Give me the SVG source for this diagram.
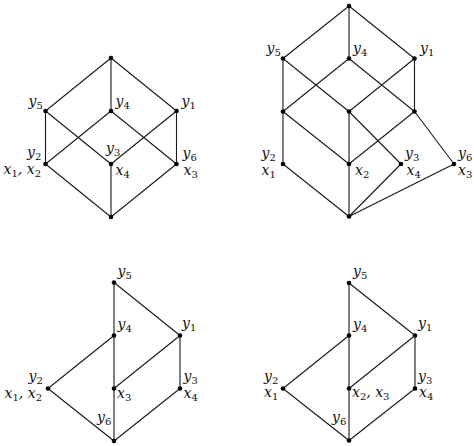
<svg xmlns="http://www.w3.org/2000/svg" width="474" height="446" viewBox="0 0 474 446">
<style>
.e{stroke:#1a1a1a;stroke-width:1.1;fill:none;stroke-linecap:round}
.n{fill:#000}
.t{font-family:"DejaVu Serif","Liberation Serif",serif;font-style:italic;font-size:14px;fill:#111}
.s{font-style:normal;font-size:10px}
</style>
<rect width="474" height="446" fill="#fff"/>
<defs><circle id="d" r="2.3" class="n"/></defs>
<g id="connectors">
<path class="e" d="M111,58 L45.5,111 M111,58 L111,111 M111,58 L176.5,111 M45.5,111 L45.5,164 M45.5,111 L111,164 M111,111 L45.5,164 M111,111 L176.5,164 M176.5,111 L111,164 M176.5,111 L176.5,164 M45.5,164 L111,217 M111,164 L111,217 M176.5,164 L111,217"/>
<path class="e" d="M349,6 L283,58.5 M349,6 L349,58.5 M349,6 L414.5,58.5 M283,58.5 L283,111.5 M283,58.5 L349,111.5 M349,58.5 L283,111.5 M349,58.5 L414.5,111.5 M414.5,58.5 L349,111.5 M414.5,58.5 L414.5,111.5 M283,111.5 L283,164 M283,111.5 L349,164 M349,111.5 L349,164 M349,111.5 L401,164 M414.5,111.5 L349,164 M414.5,111.5 L454,164 M283,164 L349,216.5 M349,164 L349,216.5 M401,164 L349,216.5 M454,164 L349,216.5"/>
<path class="e" d="M114,282.5 L114,335.5 M114,282.5 L180,335.5 M114,335.5 L48,388.5 M114,335.5 L114,388.5 M180,335.5 L114,388.5 M180,335.5 L180,388.5 M48,388.5 L114,441 M114,388.5 L114,441 M180,388.5 L114,441"/>
<path class="e" d="M349,283 L349,335.5 M349,283 L415,335.5 M349,335.5 L283,388.5 M349,335.5 L349,388.5 M415,335.5 L349,388.5 M415,335.5 L415,388.5 M283,388.5 L349,440.5 M349,388.5 L349,440.5 M415,388.5 L349,440.5"/>
</g>
<g id="q1-top"><use href="#d" x="111" y="58"/></g>
<g id="q1-y5"><use href="#d" x="45.5" y="111"/><text class="t" x="28.5" y="106">y<tspan class="s" dy="3">5</tspan></text></g>
<g id="q1-y4"><use href="#d" x="111" y="111"/><text class="t" x="115.5" y="106">y<tspan class="s" dy="3">4</tspan></text></g>
<g id="q1-y1"><use href="#d" x="176.5" y="111"/><text class="t" x="181.5" y="106">y<tspan class="s" dy="3">1</tspan></text></g>
<g id="q1-y2"><use href="#d" x="45.5" y="164"/><text class="t" x="27" y="157">y<tspan class="s" dy="3">2</tspan></text><text class="t" x="41" y="174" text-anchor="end">x<tspan class="s" dy="3">1</tspan><tspan dy="-3">, x</tspan><tspan class="s" dy="3">2</tspan></text></g>
<g id="q1-y3"><use href="#d" x="111" y="164"/><text class="t" x="106" y="153">y<tspan class="s" dy="3">3</tspan></text><text class="t" x="115.5" y="175">x<tspan class="s" dy="3">4</tspan></text></g>
<g id="q1-y6"><use href="#d" x="176.5" y="164"/><text class="t" x="182.5" y="157.5">y<tspan class="s" dy="3">6</tspan></text><text class="t" x="183.5" y="175">x<tspan class="s" dy="3">3</tspan></text></g>
<g id="q1-bottom"><use href="#d" x="111" y="217"/></g>
<g id="q2-top"><use href="#d" x="349" y="6"/></g>
<g id="q2-y5"><use href="#d" x="283" y="58.5"/><text class="t" x="266.5" y="52.5">y<tspan class="s" dy="3">5</tspan></text></g>
<g id="q2-y4"><use href="#d" x="349" y="58.5"/><text class="t" x="353" y="52.5">y<tspan class="s" dy="3">4</tspan></text></g>
<g id="q2-y1"><use href="#d" x="414.5" y="58.5"/><text class="t" x="420" y="52.5">y<tspan class="s" dy="3">1</tspan></text></g>
<g id="q2-mid-left"><use href="#d" x="283" y="111.5"/></g>
<g id="q2-mid-center"><use href="#d" x="349" y="111.5"/></g>
<g id="q2-mid-right"><use href="#d" x="414.5" y="111.5"/></g>
<g id="q2-x1"><use href="#d" x="283" y="164"/><text class="t" x="261.5" y="157.5">y<tspan class="s" dy="3">2</tspan></text><text class="t" x="261.5" y="175">x<tspan class="s" dy="3">1</tspan></text></g>
<g id="q2-x2"><use href="#d" x="349" y="164"/><text class="t" x="355" y="175">x<tspan class="s" dy="3">2</tspan></text></g>
<g id="q2-x4"><use href="#d" x="401" y="164"/><text class="t" x="405" y="157.5">y<tspan class="s" dy="3">3</tspan></text><text class="t" x="406.5" y="175">x<tspan class="s" dy="3">4</tspan></text></g>
<g id="q2-x3"><use href="#d" x="454" y="164"/><text class="t" x="458" y="157.5">y<tspan class="s" dy="3">6</tspan></text><text class="t" x="458" y="175">x<tspan class="s" dy="3">3</tspan></text></g>
<g id="q2-bottom"><use href="#d" x="349" y="216.5"/></g>
<g id="q3-y5"><use href="#d" x="114" y="282.5"/><text class="t" x="117.5" y="276">y<tspan class="s" dy="3">5</tspan></text></g>
<g id="q3-y4"><use href="#d" x="114" y="335.5"/><text class="t" x="117.5" y="329">y<tspan class="s" dy="3">4</tspan></text></g>
<g id="q3-y1"><use href="#d" x="180" y="335.5"/><text class="t" x="182" y="328">y<tspan class="s" dy="3">1</tspan></text></g>
<g id="q3-y2"><use href="#d" x="48" y="388.5"/><text class="t" x="28.5" y="381">y<tspan class="s" dy="3">2</tspan></text><text class="t" x="42" y="398" text-anchor="end">x<tspan class="s" dy="3">1</tspan><tspan dy="-3">, x</tspan><tspan class="s" dy="3">2</tspan></text></g>
<g id="q3-x3"><use href="#d" x="114" y="388.5"/><text class="t" x="117" y="398">x<tspan class="s" dy="3">3</tspan></text></g>
<g id="q3-x4"><use href="#d" x="180" y="388.5"/><text class="t" x="183.5" y="381">y<tspan class="s" dy="3">3</tspan></text><text class="t" x="183.5" y="398">x<tspan class="s" dy="3">4</tspan></text></g>
<g id="q3-bottom"><use href="#d" x="114" y="441"/><text class="t" x="97" y="422">y<tspan class="s" dy="3">6</tspan></text></g>
<g id="q4-y5"><use href="#d" x="349" y="283"/><text class="t" x="353" y="276">y<tspan class="s" dy="3">5</tspan></text></g>
<g id="q4-y4"><use href="#d" x="349" y="335.5"/><text class="t" x="353" y="329">y<tspan class="s" dy="3">4</tspan></text></g>
<g id="q4-y1"><use href="#d" x="415" y="335.5"/><text class="t" x="418" y="328">y<tspan class="s" dy="3">1</tspan></text></g>
<g id="q4-x1"><use href="#d" x="283" y="388.5"/><text class="t" x="264" y="380.5">y<tspan class="s" dy="3">2</tspan></text><text class="t" x="264" y="397">x<tspan class="s" dy="3">1</tspan></text></g>
<g id="q4-x23"><use href="#d" x="349" y="388.5"/><text class="t" x="352" y="397">x<tspan class="s" dy="3">2</tspan><tspan dy="-3">, x</tspan><tspan class="s" dy="3">3</tspan></text></g>
<g id="q4-x4"><use href="#d" x="415" y="388.5"/><text class="t" x="418" y="380.5">y<tspan class="s" dy="3">3</tspan></text><text class="t" x="419" y="397">x<tspan class="s" dy="3">4</tspan></text></g>
<g id="q4-bottom"><use href="#d" x="349" y="440.5"/><text class="t" x="332" y="422">y<tspan class="s" dy="3">6</tspan></text></g>
</svg>
